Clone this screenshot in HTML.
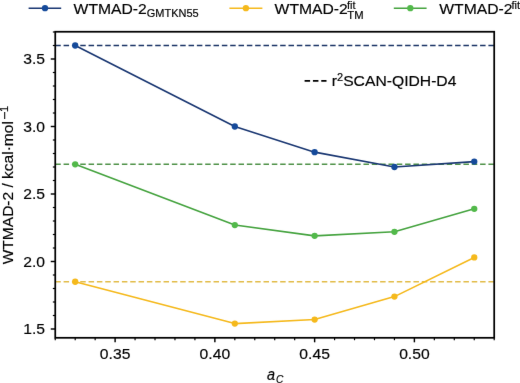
<!DOCTYPE html>
<html><head><meta charset="utf-8"><style>
html,body{margin:0;padding:0;background:#fff;}
body{width:520px;height:383px;overflow:hidden;font-family:"Liberation Sans",sans-serif;}
svg{display:block;}
text{font-variant-ligatures:none;font-kerning:none;}
</style></head><body>
<svg width="520" height="383" viewBox="0 0 520 383">
<rect width="520" height="383" fill="#fff"/>
<defs><filter id="b" x="0" y="0" width="520" height="383" filterUnits="userSpaceOnUse" color-interpolation-filters="sRGB"><feConvolveMatrix order="3" kernelMatrix="0.00345 0.05875 0.00345 0.05875 1.00000 0.05875 0.00345 0.05875 0.00345" edgeMode="duplicate" preserveAlpha="false"/></filter></defs>
<g filter="url(#b)">
<line x1="55.25" y1="45.50" x2="494.20" y2="45.50" stroke="#1b3466" stroke-width="1.4" stroke-dasharray="5.5 2.83" stroke-dashoffset="0"/>
<line x1="55.25" y1="164.30" x2="494.20" y2="164.30" stroke="#4f9248" stroke-width="1.4" stroke-dasharray="5.5 2.83" stroke-dashoffset="0"/>
<line x1="55.25" y1="281.75" x2="494.20" y2="281.75" stroke="#e2bc48" stroke-width="1.4" stroke-dasharray="5.5 2.83" stroke-dashoffset="0"/>
<polyline points="75.20,45.50 234.82,126.50 314.63,152.15 394.44,167.00 474.25,161.60" fill="none" stroke="#1a3772" stroke-width="1.6" stroke-linejoin="round"/>
<circle cx="75.20" cy="45.50" r="3.15" fill="#154a9a"/>
<circle cx="234.82" cy="126.50" r="3.15" fill="#154a9a"/>
<circle cx="314.63" cy="152.15" r="3.15" fill="#154a9a"/>
<circle cx="394.44" cy="167.00" r="3.15" fill="#154a9a"/>
<circle cx="474.25" cy="161.60" r="3.15" fill="#154a9a"/>
<polyline points="75.20,281.75 234.82,323.60 314.63,319.55 394.44,296.60 474.25,257.45" fill="none" stroke="#f5b91c" stroke-width="1.6" stroke-linejoin="round"/>
<circle cx="75.20" cy="281.75" r="3.15" fill="#f5b91c"/>
<circle cx="234.82" cy="323.60" r="3.15" fill="#f5b91c"/>
<circle cx="314.63" cy="319.55" r="3.15" fill="#f5b91c"/>
<circle cx="394.44" cy="296.60" r="3.15" fill="#f5b91c"/>
<circle cx="474.25" cy="257.45" r="3.15" fill="#f5b91c"/>
<polyline points="75.20,164.30 234.82,225.05 314.63,235.85 394.44,231.80 474.25,208.85" fill="none" stroke="#45a33f" stroke-width="1.6" stroke-linejoin="round"/>
<circle cx="75.20" cy="164.30" r="3.15" fill="#52b94a"/>
<circle cx="234.82" cy="225.05" r="3.15" fill="#52b94a"/>
<circle cx="314.63" cy="235.85" r="3.15" fill="#52b94a"/>
<circle cx="394.44" cy="231.80" r="3.15" fill="#52b94a"/>
<circle cx="474.25" cy="208.85" r="3.15" fill="#52b94a"/>
<rect x="55.25" y="31.75" width="438.95" height="306.05" fill="none" stroke="#000" stroke-width="1.75"/>
<line x1="55.25" y1="337.80" x2="55.25" y2="340.20" stroke="#000" stroke-width="1.2"/>
<line x1="75.20" y1="337.80" x2="75.20" y2="340.20" stroke="#000" stroke-width="1.2"/>
<line x1="95.15" y1="337.80" x2="95.15" y2="340.20" stroke="#000" stroke-width="1.2"/>
<line x1="115.11" y1="337.80" x2="115.11" y2="342.30" stroke="#000" stroke-width="1.45"/>
<line x1="135.06" y1="337.80" x2="135.06" y2="340.20" stroke="#000" stroke-width="1.2"/>
<line x1="155.01" y1="337.80" x2="155.01" y2="340.20" stroke="#000" stroke-width="1.2"/>
<line x1="174.96" y1="337.80" x2="174.96" y2="340.20" stroke="#000" stroke-width="1.2"/>
<line x1="194.92" y1="337.80" x2="194.92" y2="340.20" stroke="#000" stroke-width="1.2"/>
<line x1="214.87" y1="337.80" x2="214.87" y2="342.30" stroke="#000" stroke-width="1.45"/>
<line x1="234.82" y1="337.80" x2="234.82" y2="340.20" stroke="#000" stroke-width="1.2"/>
<line x1="254.77" y1="337.80" x2="254.77" y2="340.20" stroke="#000" stroke-width="1.2"/>
<line x1="274.72" y1="337.80" x2="274.72" y2="340.20" stroke="#000" stroke-width="1.2"/>
<line x1="294.68" y1="337.80" x2="294.68" y2="340.20" stroke="#000" stroke-width="1.2"/>
<line x1="314.63" y1="337.80" x2="314.63" y2="342.30" stroke="#000" stroke-width="1.45"/>
<line x1="334.58" y1="337.80" x2="334.58" y2="340.20" stroke="#000" stroke-width="1.2"/>
<line x1="354.53" y1="337.80" x2="354.53" y2="340.20" stroke="#000" stroke-width="1.2"/>
<line x1="374.49" y1="337.80" x2="374.49" y2="340.20" stroke="#000" stroke-width="1.2"/>
<line x1="394.44" y1="337.80" x2="394.44" y2="340.20" stroke="#000" stroke-width="1.2"/>
<line x1="414.39" y1="337.80" x2="414.39" y2="342.30" stroke="#000" stroke-width="1.45"/>
<line x1="434.34" y1="337.80" x2="434.34" y2="340.20" stroke="#000" stroke-width="1.2"/>
<line x1="454.30" y1="337.80" x2="454.30" y2="340.20" stroke="#000" stroke-width="1.2"/>
<line x1="474.25" y1="337.80" x2="474.25" y2="340.20" stroke="#000" stroke-width="1.2"/>
<line x1="494.20" y1="337.80" x2="494.20" y2="340.20" stroke="#000" stroke-width="1.2"/>
<line x1="55.25" y1="329.00" x2="50.75" y2="329.00" stroke="#000" stroke-width="1.45"/>
<line x1="55.25" y1="315.50" x2="52.85" y2="315.50" stroke="#000" stroke-width="1.2"/>
<line x1="55.25" y1="302.00" x2="52.85" y2="302.00" stroke="#000" stroke-width="1.2"/>
<line x1="55.25" y1="288.50" x2="52.85" y2="288.50" stroke="#000" stroke-width="1.2"/>
<line x1="55.25" y1="275.00" x2="52.85" y2="275.00" stroke="#000" stroke-width="1.2"/>
<line x1="55.25" y1="261.50" x2="50.75" y2="261.50" stroke="#000" stroke-width="1.45"/>
<line x1="55.25" y1="248.00" x2="52.85" y2="248.00" stroke="#000" stroke-width="1.2"/>
<line x1="55.25" y1="234.50" x2="52.85" y2="234.50" stroke="#000" stroke-width="1.2"/>
<line x1="55.25" y1="221.00" x2="52.85" y2="221.00" stroke="#000" stroke-width="1.2"/>
<line x1="55.25" y1="207.50" x2="52.85" y2="207.50" stroke="#000" stroke-width="1.2"/>
<line x1="55.25" y1="194.00" x2="50.75" y2="194.00" stroke="#000" stroke-width="1.45"/>
<line x1="55.25" y1="180.50" x2="52.85" y2="180.50" stroke="#000" stroke-width="1.2"/>
<line x1="55.25" y1="167.00" x2="52.85" y2="167.00" stroke="#000" stroke-width="1.2"/>
<line x1="55.25" y1="153.50" x2="52.85" y2="153.50" stroke="#000" stroke-width="1.2"/>
<line x1="55.25" y1="140.00" x2="52.85" y2="140.00" stroke="#000" stroke-width="1.2"/>
<line x1="55.25" y1="126.50" x2="50.75" y2="126.50" stroke="#000" stroke-width="1.45"/>
<line x1="55.25" y1="113.00" x2="52.85" y2="113.00" stroke="#000" stroke-width="1.2"/>
<line x1="55.25" y1="99.50" x2="52.85" y2="99.50" stroke="#000" stroke-width="1.2"/>
<line x1="55.25" y1="86.00" x2="52.85" y2="86.00" stroke="#000" stroke-width="1.2"/>
<line x1="55.25" y1="72.50" x2="52.85" y2="72.50" stroke="#000" stroke-width="1.2"/>
<line x1="55.25" y1="59.00" x2="50.75" y2="59.00" stroke="#000" stroke-width="1.45"/>
<line x1="55.25" y1="45.50" x2="52.85" y2="45.50" stroke="#000" stroke-width="1.2"/>
<line x1="55.25" y1="32.00" x2="52.85" y2="32.00" stroke="#000" stroke-width="1.2"/>
<text transform="translate(115.11,359.0) scale(1,0.98)" font-family="Liberation Sans, sans-serif" stroke="#000" stroke-width="0.18" font-size="15.7" text-anchor="middle">0.35</text>
<text transform="translate(214.87,359.0) scale(1,0.98)" font-family="Liberation Sans, sans-serif" stroke="#000" stroke-width="0.18" font-size="15.7" text-anchor="middle">0.40</text>
<text transform="translate(314.63,359.0) scale(1,0.98)" font-family="Liberation Sans, sans-serif" stroke="#000" stroke-width="0.18" font-size="15.7" text-anchor="middle">0.45</text>
<text transform="translate(414.39,359.0) scale(1,0.98)" font-family="Liberation Sans, sans-serif" stroke="#000" stroke-width="0.18" font-size="15.7" text-anchor="middle">0.50</text>
<text transform="translate(45.1,64.20) scale(1,0.99)" font-family="Liberation Sans, sans-serif" stroke="#000" stroke-width="0.18" font-size="15.7" text-anchor="end">3.5</text>
<text transform="translate(45.1,131.70) scale(1,0.99)" font-family="Liberation Sans, sans-serif" stroke="#000" stroke-width="0.18" font-size="15.7" text-anchor="end">3.0</text>
<text transform="translate(45.1,199.20) scale(1,0.99)" font-family="Liberation Sans, sans-serif" stroke="#000" stroke-width="0.18" font-size="15.7" text-anchor="end">2.5</text>
<text transform="translate(45.1,266.70) scale(1,0.99)" font-family="Liberation Sans, sans-serif" stroke="#000" stroke-width="0.18" font-size="15.7" text-anchor="end">2.0</text>
<text transform="translate(45.1,334.20) scale(1,0.99)" font-family="Liberation Sans, sans-serif" stroke="#000" stroke-width="0.18" font-size="15.7" text-anchor="end">1.5</text>
<text transform="translate(267.1,379.8) scale(0.85,0.94)" font-family="Liberation Sans, sans-serif" stroke="#000" stroke-width="0.18" font-size="17" font-style="italic">a<tspan font-size="12" dx="1.0" dy="3.2">C</tspan></text>
<g transform="translate(13.0,264.3) rotate(-90)"><text transform="scale(0.99,0.93)" font-family="Liberation Sans, sans-serif" stroke="#000" stroke-width="0.18" font-size="15.7">WTMAD-2 / kcal·mol</text><line x1="145.3" y1="-8.3" x2="152.4" y2="-8.3" stroke="#000" stroke-width="1.05"/><text transform="translate(152.4,-4.6) scale(1,0.93)" font-family="Liberation Sans, sans-serif" stroke="#000" stroke-width="0.18" font-size="10.99">1</text></g>
<line x1="28.6" y1="8.2" x2="61.2" y2="8.2" stroke="#1a3772" stroke-width="1.6"/><circle cx="45" cy="8.2" r="3.15" fill="#154a9a"/>
<text transform="translate(73.6,14.2) scale(1,0.95)" font-family="Liberation Sans, sans-serif" stroke="#000" stroke-width="0.18" font-size="15.7">WTMAD-2<tspan font-size="10.99" dy="3.05">GMTKN55</tspan></text>
<line x1="229.4" y1="8.2" x2="262.4" y2="8.2" stroke="#f5b91c" stroke-width="1.6"/><circle cx="245.9" cy="8.2" r="3.15" fill="#f5b91c"/>
<text transform="translate(274.6,14.2) scale(1,0.95)" font-family="Liberation Sans, sans-serif" stroke="#000" stroke-width="0.18" font-size="15.7">WTMAD-2</text>
<text transform="translate(347.0,8.8) scale(1,0.95)" font-family="Liberation Sans, sans-serif" stroke="#000" stroke-width="0.18" font-size="10.99">fit</text>
<text transform="translate(347.3,18.5) scale(1.02,0.95)" font-family="Liberation Sans, sans-serif" stroke="#000" stroke-width="0.18" font-size="10.99">TM</text>
<line x1="393.8" y1="8.2" x2="426.6" y2="8.2" stroke="#45a33f" stroke-width="1.6"/><circle cx="410.3" cy="8.2" r="3.15" fill="#52b94a"/>
<text transform="translate(439.3,14.2) scale(1,0.95)" font-family="Liberation Sans, sans-serif" stroke="#000" stroke-width="0.18" font-size="15.7">WTMAD-2</text>
<text transform="translate(511.4,8.8) scale(1,0.95)" font-family="Liberation Sans, sans-serif" stroke="#000" stroke-width="0.18" font-size="10.99">fit</text>
<line x1="304.6" y1="80.9" x2="326.5" y2="80.9" stroke="#000" stroke-width="1.75" stroke-dasharray="5.5 2.83"/>
<text transform="translate(331.8,86.2) scale(1,0.94)" font-family="Liberation Sans, sans-serif" stroke="#000" stroke-width="0.18" font-size="15.7">r<tspan font-size="10.99" dy="-5.85">2</tspan><tspan dy="5.85">SCAN-QIDH-D4</tspan></text>
</g>
</svg>
</body></html>
